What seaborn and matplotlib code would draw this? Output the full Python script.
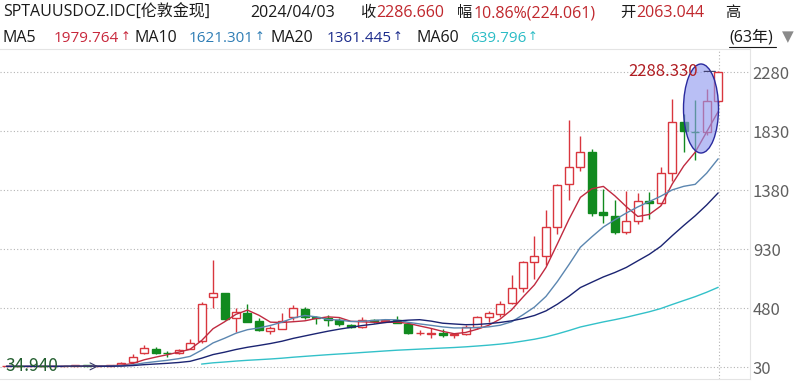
import numpy as np
import pandas as pd
import matplotlib
matplotlib.use("Agg")
import matplotlib.pyplot as plt
from matplotlib.patches import Ellipse
from matplotlib.lines import Line2D
import seaborn as sns

# ---------------- data ----------------
years = list(range(1962, 2025))
opens = [35.00, 35.05, 35.08, 35.12, 35.13, 35.19, 35.20, 41.90, 35.20, 37.40,
         43.6, 64.9, 137, 167, 140, 135, 170, 229, 563, 593,
         402, 445, 381, 305, 322, 410, 473, 410, 402, 389,
         353, 335, 389, 384, 386, 360, 288, 282, 288, 272,
         282, 338, 414, 435, 517, 631, 835, 880, 1100, 1428,
         1558, 1672, 1213, 1183, 1061, 1145, 1298, 1283, 1512, 1902,
         1829, 1825, 2063.044]
closes = [35.05, 35.08, 35.12, 35.13, 35.19, 35.20, 41.90, 35.20, 37.40, 43.60,
          61, 106, 177, 139, 135, 160, 216, 509, 593, 397,
          448, 376, 312, 330, 384, 478, 410, 401, 392, 358,
          335, 389, 384, 386, 369, 290, 288, 290, 274, 279,
          338, 410, 440, 511, 631, 830, 878, 1100, 1420, 1560,
          1672, 1206, 1190, 1061, 1145, 1298, 1283, 1512, 1902, 1833,
          1825, 2060, 2286.66]
highs = [35.10, 35.15, 35.20, 35.20, 35.25, 35.30, 43.5, 43.8, 39.2, 44.6,
         70, 127, 197, 186, 150, 168, 243, 524, 850, 599,
         481, 509, 406, 341, 440, 502, 485, 418, 425, 403,
         360, 409, 397, 397, 416, 367, 313, 326, 317, 293,
         350, 417, 455, 538, 733, 842, 1031, 1226, 1431, 1920,
         1796, 1695, 1392, 1308, 1375, 1358, 1366, 1557, 2075, 1959,
         2070, 2150, 2288.33]
lows = [34.98, 35.00, 35.05, 35.05, 35.10, 35.15, 35.10, 35.00, 34.94, 37.30,
        43.5, 64, 130, 128, 104, 129, 165, 216, 478, 391,
        297, 374, 307, 285, 326, 390, 395, 356, 345, 344,
        330, 326, 369, 372, 367, 283, 273, 252, 263, 255,
        277, 320, 375, 410, 513, 603, 700, 810, 1044, 1308,
        1527, 1180, 1131, 1046, 1046, 1124, 1160, 1266, 1451, 1673,
        1615, 1804, 2030]
# earlier yearly closes (1920-1961), needed for the moving-average windows
hist_closes = [20.67] * 14 + [35.0] * 28

ma_periods = [5, 10, 20, 60]
ma_colors = ["#c02a40", "#5b86b0", "#1b2472", "#33c1c9"]
yticks = [30, 480, 930, 1380, 1830, 2280]

# ---------------- frame ----------------
df = pd.DataFrame({"year": years, "open": opens, "high": highs,
                   "low": lows, "close": closes})
df["i"] = np.arange(len(df))
full = pd.Series(hist_closes + closes)
nh = len(hist_closes)
for p in ma_periods:
    df[f"MA{p}"] = full.rolling(p).mean().iloc[nh:].to_numpy()

sns.set_style("white")
plt.rcParams["font.family"] = ["Noto Sans CJK SC", "DejaVu Sans"]
HDR = ["Open Sans", "Noto Sans CJK SC", "DejaVu Sans"]

W, H = 800, 382
fig = plt.figure(figsize=(W / 100, H / 100), dpi=100)
top_px, bot_px, right_px = 49, 379, 750
ax = fig.add_axes([0, 1 - bot_px / H, right_px / W, (bot_px - top_px) / H])

def px2v(y):
    return 30 + (367 - y) / 0.1309

def px2i(x):
    return (x - 6.4) / 11.48

ax.set_xlim(px2i(0), px2i(right_px))
ax.set_ylim(px2v(bot_px), px2v(top_px))

# grid
for t in yticks:
    ax.axhline(t, color="#b4b4b4", lw=0.8, ls=(0, (1, 2)), zorder=0)
ax.axvline(px2i(719), color="#b4b4b4", lw=0.8, ls=(0, (1, 2)), zorder=0)

# candles
up_c, dn_c = "#d9363e", "#118a1f"
bw = 0.7
for _, r in df.iterrows():
    up = r["close"] >= r["open"]
    c = up_c if up else dn_c
    ax.vlines(r["i"], r["low"], r["high"], color=c, lw=1, zorder=2)
    b0 = min(r["open"], r["close"])
    h = abs(r["close"] - r["open"])
    ax.bar(r["i"], h, bottom=b0, width=bw,
           facecolor="white" if up else dn_c, edgecolor=c, lw=1, zorder=3)

# moving averages
for p, col in zip(ma_periods, ma_colors):
    d = df.dropna(subset=[f"MA{p}"])
    sns.lineplot(data=d, x="i", y=f"MA{p}", ax=ax, color=col, lw=1,
                 zorder=4, legend=False)

# highlight ellipse
ax.add_patch(Ellipse((px2i(701), px2v(108.5)), width=35 / 11.48,
                     height=89 / 0.1309, facecolor=(0.56, 0.60, 0.94, 0.62),
                     edgecolor="#2a2a9e", lw=1, zorder=5))

# max / min annotations
imax = int(np.argmax(highs))
ax.annotate(f"{highs[imax]:.3f}", xy=(imax, highs[imax]),
            xytext=(px2i(698), highs[imax]), ha="right", va="center",
            color="#b01e23", fontsize=12, zorder=6,
            arrowprops=dict(arrowstyle="-", color="#3a3a6a", lw=0.8))
imin = int(np.argmin(lows))
ax.annotate(f"{lows[imin]:.3f}", xy=(imin, lows[imin]),
            xytext=(px2i(5), lows[imin]), ha="left", va="center",
            color="#245f30", fontsize=12.5, zorder=6,
            arrowprops=dict(arrowstyle="->", color="#3a3a6a", lw=0.8,
                            shrinkA=2, shrinkB=0))

ax.set_xlabel("")
ax.set_ylabel("")
ax.set_xticks([])
ax.yaxis.tick_right()
ax.set_yticks(yticks)
ax.set_yticklabels([str(t) for t in yticks])
ax.tick_params(axis="y", length=0, pad=2, labelsize=12, labelcolor="#606060")
ax.spines["left"].set_visible(False)
for s in ["top", "right", "bottom"]:
    ax.spines[s].set_color("#e4e4e4")
    ax.spines[s].set_linewidth(0.8)

# header texts
renderer = fig.canvas.get_renderer()

def T(x, y, s, color="#1a1a1a", size=11.5, family=HDR):
    return fig.text(x / W, 1 - y / H, s, color=color, fontsize=size,
                    ha="left", va="center", family=family)

def VAL_ARROW(x, y, s, color, size=11):
    t = T(x, y, s, color, size)
    x1 = t.get_window_extent(renderer).x1
    T(x1 + 1, y - 1, "↑", color, 8.5, ["DejaVu Sans"])

red = "#c0272d"
T(3, 13, "SPTAUUSDOZ.IDC[伦敦金现]")
T(250, 13, "2024/04/03")
T(360, 13, "收", size=11)
T(376, 13, "2286.660", red)
T(457, 13, "幅", size=11)
T(474, 13, "10.86%(224.061)", red)
T(620, 13, "开", size=11)
T(636, 13, "2063.044", red)
T(725, 13, "高", size=11)

T(3, 38, "MA5")
VAL_ARROW(54, 38, "1979.764", "#c8283c")
T(134, 38, "MA10")
VAL_ARROW(189, 38, "1621.301", "#2e7db5")
T(271, 38, "MA20")
VAL_ARROW(327, 38, "1361.445", "#1c2c8c")
T(417, 38, "MA60")
VAL_ARROW(470, 38, "639.796", "#2bbcc5")
T(729, 38, "(63年)")
fig.add_artist(Line2D([729 / W, 776 / W], [1 - 47 / H, 1 - 47 / H],
                      color="#1a1a1a", lw=0.8))
T(782, 37, "▼", "#8a8a8a", 11, ["DejaVu Sans"])

fig.savefig("out.png", dpi=100)
